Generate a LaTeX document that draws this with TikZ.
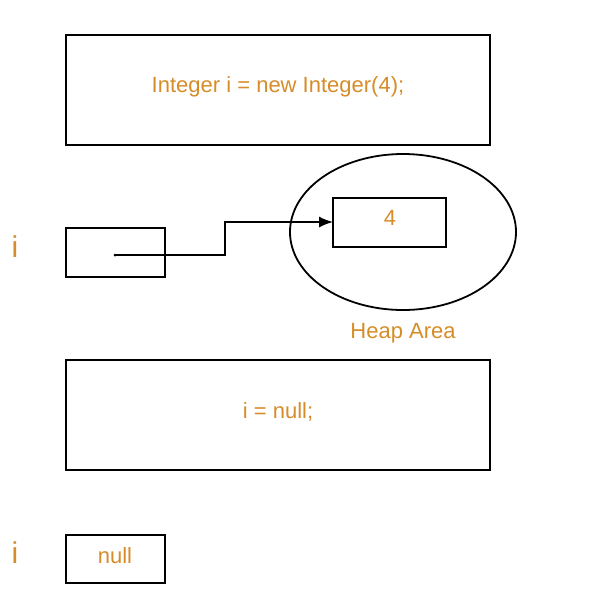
\documentclass[tikz,border=0pt]{standalone}
\usepackage{fontspec}
\setmainfont{Liberation Sans}
\usetikzlibrary{arrows.meta}
\definecolor{org}{RGB}{214,140,40}
\begin{document}
\begin{tikzpicture}[x=1pt,y=-1pt,
  lbl/.style={text=org,font=\fontsize{22}{26}\selectfont},
  big/.style={text=org,font=\fontsize{30}{32}\selectfont},
  ln/.style={line width=1.8pt}]
\useasboundingbox (0,0) rectangle (605,605);
\draw[ln] (66,35) rectangle (490,145);
\node[lbl] (t1) at (278,87) {Integer i = new Integer(4);};
\node[big] (i1) at (15,247) {i};
\draw[ln] (66,228) rectangle (165,277);
\coordinate (p) at (115,255);
\fill (p) circle (1.5);
\draw[ln] (403,232) ellipse (113 and 78);
\draw[ln] (333,198) rectangle (446,247);
\coordinate (q) at (333,222);
\node[lbl] (four) at (390,218) {4};
\draw[line width=1.5pt,-{Latex[length=14pt,width=11pt]}] (p) -- (225,255) -- (225,222) -- (q);
\node[lbl] (heap) at (403,333) {Heap Area};
\draw[ln] (66,360) rectangle (490,470);
\node[lbl] (t2) at (278,412) {i = null;};
\node[big] (i2) at (15,553) {i};
\draw[ln] (66,535) rectangle (165,583);
\node[lbl] (nl) at (115,556) {null};
\end{tikzpicture}
\end{document}
